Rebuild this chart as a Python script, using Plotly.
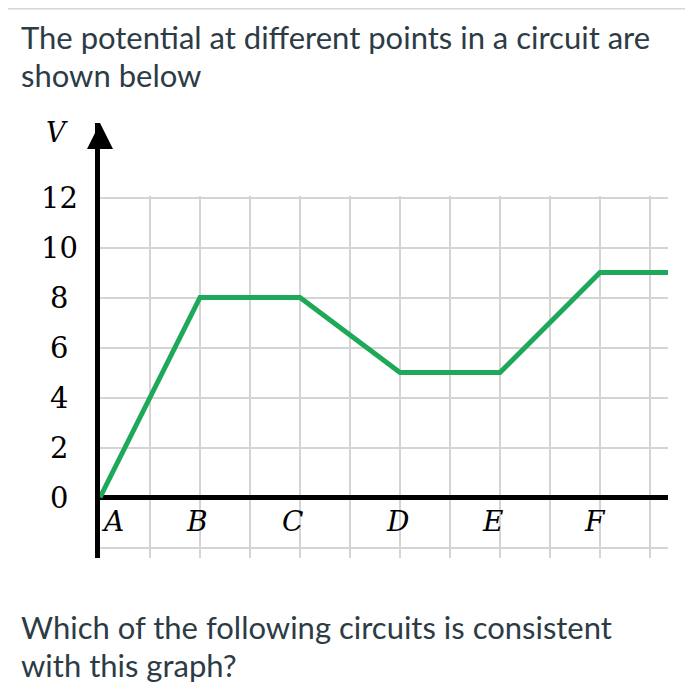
import plotly.graph_objects as go

# potential at the labelled points of the circuit
point_labels = ['A', 'B', 'C', 'D', 'E', 'F']
point_x = [0, 2, 4, 6, 8, 10]
point_v = [0, 8, 8, 5, 5, 9]
# the line carries on flat past F
end_x = 11.36
end_v = 9

y_ticks = [-2, 0, 2, 4, 6, 8, 10, 12]
y_ticktext = ['', '0', '2', '4', '6', '8', '10', '12']

title_lines = ['The potential at different points in a circuit are', 'shown below']
question_lines = ['Which of the following circuits is consistent', 'with this graph?']

TEXT = '#2d3b45'
GRID = '#d4d4d4'
GREEN = '#1ea85a'
SERIF = 'DejaVu Serif'

# the page body has an 8px margin, so the figure is a little smaller than the window
W, H = 685, 692
ML, MR, MT, MB = 92, 25, 115, 142
y_lo, y_hi = -2.42, 14.98

fig = go.Figure()

fig.add_trace(go.Scatter(
    x=point_x + [end_x], y=point_v + [end_v],
    mode='lines', line=dict(color=GREEN, width=5),
    hoverinfo='skip', showlegend=False,
))

plot_w = W - ML - MR
plot_h = H - MT - MB


def px_to_paper(xp, yp):
    return (xp - ML) / plot_w, (H - MB - yp) / plot_h


# vertical grid stops just above the 12 line
shapes = []
for gx in range(1, 12):
    shapes.append(dict(type='line', xref='x', yref='y', x0=gx, x1=gx, y0=y_lo, y1=12.06,
                       line=dict(color=GRID, width=2), layer='below'))
# thin grey rule along the top of the page
_, top_y = px_to_paper(0, 0)
shapes.append(dict(type='line', xref='paper', yref='paper', x0=-0.2, x1=1.2,
                   y0=top_y, y1=top_y, line=dict(color='#d6d6d6', width=3)))

annotations = []
# arrow head on the V axis
annotations.append(dict(x=0, y=y_hi, ax=0, ay=14.0, xref='x', yref='y', axref='x', ayref='y',
                        showarrow=True, arrowhead=2, arrowsize=1.3, arrowwidth=4,
                        arrowcolor='black', text='', standoff=0))
annotations.append(dict(x=0, y=14.6, xref='x', yref='y', xshift=-43, text='<i>V</i>',
                        showarrow=False, font=dict(family=SERIF, size=27, color='black')))

# tick numbers are centred in a column left of the axis
tick_col, _ = px_to_paper(51, 0)
for tv, tt in zip(y_ticks, y_ticktext):
    if tt:
        annotations.append(dict(x=tick_col, y=tv, xref='paper', yref='y', xanchor='center',
                                showarrow=False, text=tt,
                                font=dict(family=SERIF, size=29, color='black')))

label_shift = [12, -3, -8, -3, -8, -5]
for lab, px, sh in zip(point_labels, point_x, label_shift):
    annotations.append(dict(x=px, y=-0.95, xref='x', yref='y', xshift=sh, text='<i>' + lab + '</i>',
                            showarrow=False, font=dict(family=SERIF, size=28, color='black')))

# page text above and below the chart, one annotation per line
line_tops = [8, 46, 598, 636]
for line, top in zip(title_lines + question_lines, line_tops):
    xp, yp = px_to_paper(11, top)
    annotations.append(dict(x=xp, y=yp, xref='paper', yref='paper', xanchor='left', yanchor='top',
                            align='left', showarrow=False, text=line,
                            font=dict(family='Lato', size=31, color=TEXT)))

fig.update_layout(
    width=W, height=H,
    margin=dict(l=ML, r=MR, t=MT, b=MB),
    plot_bgcolor='white', paper_bgcolor='white',
    shapes=shapes,
    annotations=annotations,
    xaxis=dict(range=[0, end_x], showgrid=False, zeroline=False, showticklabels=False,
               showline=False, fixedrange=True),
    yaxis=dict(range=[y_lo, y_hi], tickvals=y_ticks, showticklabels=False,
               showgrid=True, gridcolor=GRID, gridwidth=2,
               zeroline=True, zerolinecolor='black', zerolinewidth=5,
               showline=True, linecolor='black', linewidth=5, fixedrange=True),
)

fig.write_html('out.html')
